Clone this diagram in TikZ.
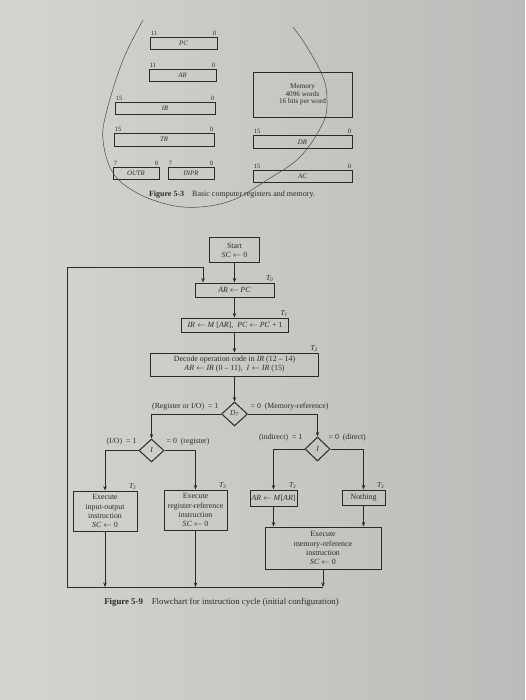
\documentclass[tikz,border=0pt]{standalone}
\usepackage{fontspec}
\setmainfont{Liberation Serif}
\usetikzlibrary{arrows.meta,shapes.geometric}
\definecolor{paperL}{HTML}{D6D4D0}
\definecolor{paperR}{HTML}{BCBBB9}
\definecolor{ink}{HTML}{2A2A2A}
\begin{document}
\begin{tikzpicture}[x=1pt,y=-1pt,
  regbox/.style={draw=ink, line width=0.8pt, inner sep=0pt, text=ink, font=\fontsize{6.8}{7}\selectfont\itshape},
  bitlab/.style={font=\fontsize{6.5}{6.5}\selectfont, inner sep=1pt, text=ink},
  flowbox/.style={draw=ink, line width=1pt, inner sep=0pt, align=center, text=ink, font=\fontsize{7.9}{9.1}\selectfont},
  decision/.style={draw=ink, line width=1pt, diamond, inner sep=0pt, text=ink, font=\fontsize{7.5}{7.5}\selectfont\itshape},
  flowline/.style={draw=ink, line width=1pt},
  flowarrow/.style={flowline, -{Stealth[length=4.5pt,width=3.5pt]}},
  condlab/.style={font=\fontsize{7.8}{8.5}\selectfont, inner sep=0.5pt, text=ink},
  timelab/.style={font=\fontsize{7.5}{8}\selectfont\itshape, inner sep=1pt, text=ink},
  captext/.style={font=\fontsize{8}{9}\selectfont, inner sep=0pt, text=ink}
]
\shade[left color=paperL, right color=paperR] (0,0) rectangle (525,700);
\useasboundingbox (0,0) rectangle (525,700);

% ---------- Figure 5-3 ----------
\node[regbox, minimum width=67pt, minimum height=12pt] (pc) at (183.5,43) {PC};
\node[bitlab, anchor=south west] (pcA) at (pc.north west) {11};
\node[bitlab, anchor=south east] (pcB) at (pc.north east) {0};
\node[regbox, minimum width=67pt, minimum height=12pt] (arr) at (182.5,75) {AR};
\node[bitlab, anchor=south west] (arrA) at (arr.north west) {11};
\node[bitlab, anchor=south east] (arrB) at (arr.north east) {0};
\node[regbox, minimum width=100pt, minimum height=12pt] (irr) at (165,108) {IR};
\node[bitlab, anchor=south west] (irrA) at (irr.north west) {15};
\node[bitlab, anchor=south east] (irrB) at (irr.north east) {0};
\node[regbox, minimum width=100pt, minimum height=13pt] (trr) at (164,139.5) {TR};
\node[bitlab, anchor=south west] (trrA) at (trr.north west) {15};
\node[bitlab, anchor=south east] (trrB) at (trr.north east) {0};
\node[regbox, minimum width=46pt, minimum height=12pt] (outr) at (136,173) {OUTR};
\node[bitlab, anchor=south west] (outrA) at (outr.north west) {7};
\node[bitlab, anchor=south east] (outrB) at (outr.north east) {0};
\node[regbox, minimum width=46pt, minimum height=12pt] (inpr) at (191,173) {INPR};
\node[bitlab, anchor=south west] (inprA) at (inpr.north west) {7};
\node[bitlab, anchor=south east] (inprB) at (inpr.north east) {0};
\node[regbox, minimum width=99pt, minimum height=45pt, align=center, font=\fontsize{7.2}{7.4}\selectfont] (mem) at (302.5,94.5) {Memory\\4096 words\\16 bits per word};
\node[regbox, minimum width=99pt, minimum height=13pt] (drr) at (302.5,142) {DR};
\node[bitlab, anchor=south west] (drrA) at (drr.north west) {15};
\node[bitlab, anchor=south east] (drrB) at (drr.north east) {0};
\node[regbox, minimum width=99pt, minimum height=12pt] (acc) at (302.5,176) {AC};
\node[bitlab, anchor=south west] (accA) at (acc.north west) {15};
\node[bitlab, anchor=south east] (accB) at (acc.north east) {0};
\node[captext] (cap1) at (232,195) {\textbf{Figure 5-3}\quad Basic computer registers and memory.};

% hand-drawn pen loop
\draw[line width=0.5pt, ink!85] plot[smooth, tension=0.6] coordinates {(143,20) (123,60) (107,110) (103,140) (113,173) (137,193) (170,205) (200,207) (233,200) (267,180) (300,157) (323,123) (327,100) (323,77) (307,47) (293,27)};

% ---------- Figure 5-9 ----------
\node[flowbox, minimum width=50pt, minimum height=24pt] (start) at (234.5,250) {Start\\\textit{SC} $\leftarrow$ 0};
\node[flowbox, minimum width=79pt, minimum height=14pt] (ar) at (234.5,290) {\textit{AR} $\leftarrow$ \textit{PC}};
\node[timelab, anchor=south east] (t0) at (ar.north east) {T\textsubscript{0}};
\node[flowbox, minimum width=107pt, minimum height=14pt] (ir) at (235,325) {\textit{IR} $\leftarrow$ \textit{M} [\textit{AR}],\ \ \textit{PC} $\leftarrow$ \textit{PC} + 1};
\node[timelab, anchor=south east] (t1) at (ir.north east) {T\textsubscript{1}};
\node[flowbox, minimum width=168pt, minimum height=23pt] (dec) at (234.5,364.5) {Decode operation code in \textit{IR} (12 -- 14)\\\textit{AR} $\leftarrow$ \textit{IR} (0 -- 11),\ \ \textit{I} $\leftarrow$ \textit{IR} (15)};
\node[timelab, anchor=south east] (t2) at (dec.north east) {T\textsubscript{2}};

\node[decision, minimum width=26pt, minimum height=24pt] (d7) at (234.5,414) {D\textsubscript{7}};
\node[condlab, anchor=east] (c1) at (219,407) {(Register or I/O)\ \ = 1};
\node[condlab, anchor=west] (c2) at (250,407) {= 0\ \ (Memory-reference)};

\node[decision, minimum width=25pt, minimum height=23pt] (il) at (151.5,450.5) {I};
\node[condlab, anchor=east] (c3) at (137,442) {(I/O)\ \ = 1};
\node[condlab, anchor=west] (c4) at (166,442) {= 0\ \ (register)};

\node[decision, minimum width=25pt, minimum height=24pt] (ir2) at (317.5,449) {I};
\node[condlab, anchor=east] (c5) at (303,438) {(indirect)\ \ = 1};
\node[condlab, anchor=west] (c6) at (328,438) {= 0\ \ (direct)};

\node[flowbox, minimum width=64pt, minimum height=40pt] (io) at (105,511) {Execute\\input-output\\instruction\\\textit{SC} $\leftarrow$ 0};
\node[timelab, anchor=south east] (t3a) at (io.north east) {T\textsubscript{3}};
\node[flowbox, minimum width=63pt, minimum height=40pt] (rr) at (195.5,510) {Execute\\register-reference\\instruction\\\textit{SC} $\leftarrow$ 0};
\node[timelab, anchor=south east] (t3b) at (rr.north east) {T\textsubscript{3}};
\node[flowbox, minimum width=47pt, minimum height=16pt] (arm) at (273.5,498) {\textit{AR} $\leftarrow$\ \textit{M}[\textit{AR}]};
\node[timelab, anchor=south east] (t3c) at (arm.north east) {T\textsubscript{3}};
\node[flowbox, minimum width=43pt, minimum height=15pt] (noth) at (363.5,497.5) {Nothing};
\node[timelab, anchor=south east] (t3d) at (noth.north east) {T\textsubscript{3}};
\node[flowbox, minimum width=116pt, minimum height=42pt] (mr) at (323,548) {Execute\\memory-reference\\instruction\\\textit{SC} $\leftarrow$ 0};

\coordinate (bl) at (67,587);
\coordinate (tlc) at (67,267);
\coordinate (trc) at (203,267);

\draw[flowarrow] (start) -- (ar);
\draw[flowarrow] (ar.south) -- (ar.south |- ir.north);
\draw[flowarrow] (ar.south |- ir.south) -- (ar.south |- dec.north);
\draw[flowarrow] (dec) -- (d7);
\draw[flowarrow] (d7.west) -| (il.north);
\draw[flowarrow] (d7.east) -| (ir2.north);
\draw[flowarrow] (il.west) -| (io.north);
\draw[flowarrow] (il.east) -| (rr.north);
\draw[flowarrow] (ir2.west) -| (arm.north);
\draw[flowarrow] (ir2.east) -| (noth.north);
\draw[flowarrow] (arm.south) -- (arm.south |- mr.north);
\draw[flowarrow] (noth.south) -- (noth.south |- mr.north);
\draw[flowarrow] (io.south) -- (io.south |- bl);
\draw[flowarrow] (rr.south) -- (rr.south |- bl);
\draw[flowarrow] (mr.south) -- (mr.south |- bl);
\draw[flowarrow] (mr.south |- bl) -- (bl) -- (tlc) -- (trc) -- (trc |- ar.north);

\node[captext, font=\fontsize{8.8}{10}\selectfont] (cap2) at (221.5,602) {\textbf{Figure 5-9}\quad Flowchart for instruction cycle (initial configuration)};
\end{tikzpicture}
\end{document}
